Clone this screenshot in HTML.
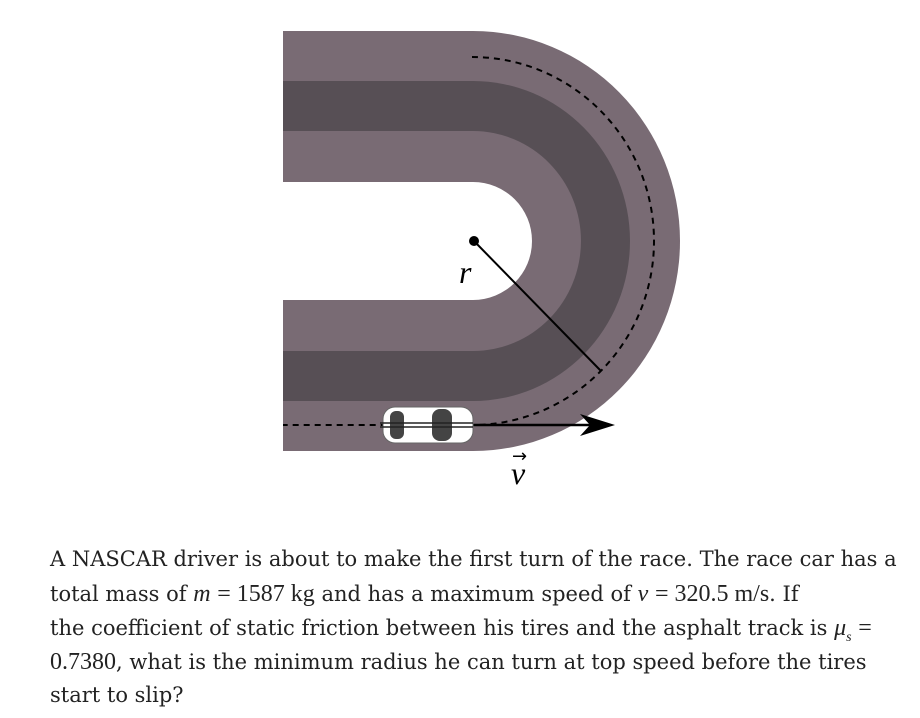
<!DOCTYPE html>
<html><head><meta charset="utf-8"><style>
body{margin:0;width:920px;height:718px;background:#fff;position:relative;overflow:hidden}
.l{position:absolute;left:50px;white-space:nowrap;font-family:"DejaVu Serif","Liberation Serif",serif;font-size:21px;color:#222}
.m{font-family:"Liberation Serif",serif;font-size:24px}
.i{font-style:italic}
</style></head><body>
<svg width="920" height="520" style="position:absolute;left:0;top:0">
<path d="M283 31 H473 A207 210 0 0 1 473 451 H283 Z" fill="#796b74"/>
<path d="M283 81 H473 A157 160 0 0 1 473 401 H283 Z" fill="#574f55"/>
<path d="M283 131 H473 A108 110 0 0 1 473 351 H283 Z" fill="#796b74"/>
<path d="M283 182 H473 A59 59 0 0 1 473 300 H283 Z" fill="#fff"/>
<path d="M472 57 A182 184 0 0 1 472 425 H283" fill="none" stroke="#000" stroke-width="2" stroke-dasharray="6 5"/>
<line x1="474" y1="241" x2="601" y2="371" stroke="#000" stroke-width="2"/>
<circle cx="474" cy="241" r="5" fill="#000"/>
<text x="459" y="283" font-family="Liberation Serif,serif" font-style="italic" font-size="32">r</text>
<line x1="470" y1="425" x2="595" y2="425" stroke="#000" stroke-width="2.5"/>
<path d="M615 425 L580 414 L590 425 L580 436 Z" fill="#000"/>
<g>
<rect x="383" y="407" width="90" height="36" rx="12" fill="#fff" stroke="#666" stroke-width="1"/>
<rect x="390" y="411" width="14" height="28" rx="6" fill="#444"/>
<rect x="432" y="409" width="20" height="32" rx="8" fill="#444"/>
<line x1="380" y1="423" x2="473" y2="423" stroke="#222" stroke-width="1.5"/>
<line x1="380" y1="427" x2="473" y2="427" stroke="#222" stroke-width="1.5"/>
</g>
<text x="511" y="484" font-family="Liberation Serif,serif" font-style="italic" font-size="32">v</text>
<text x="512" y="462" font-family="DejaVu Sans,sans-serif" font-size="18">→</text>
</svg>
<div class="l" style="top:547px">A NASCAR driver is about to make the first turn of the race. The race car has a</div>
<div class="l" style="top:581px">total mass of <span class="m i">m</span> <span class="m">= 1587 kg</span> and has a maximum speed of <span class="m i">v</span> <span class="m">= 320.5 m/s</span>. If</div>
<div class="l" style="top:615px">the coefficient of static friction between his tires and the asphalt track is <span class="m i">μ<sub style="font-size:14px">s</sub></span> <span class="m">=</span></div>
<div class="l" style="top:649px"><span class="m">0.7380</span>, what is the minimum radius he can turn at top speed before the tires</div>
<div class="l" style="top:683px">start to slip?</div>
</body></html>
